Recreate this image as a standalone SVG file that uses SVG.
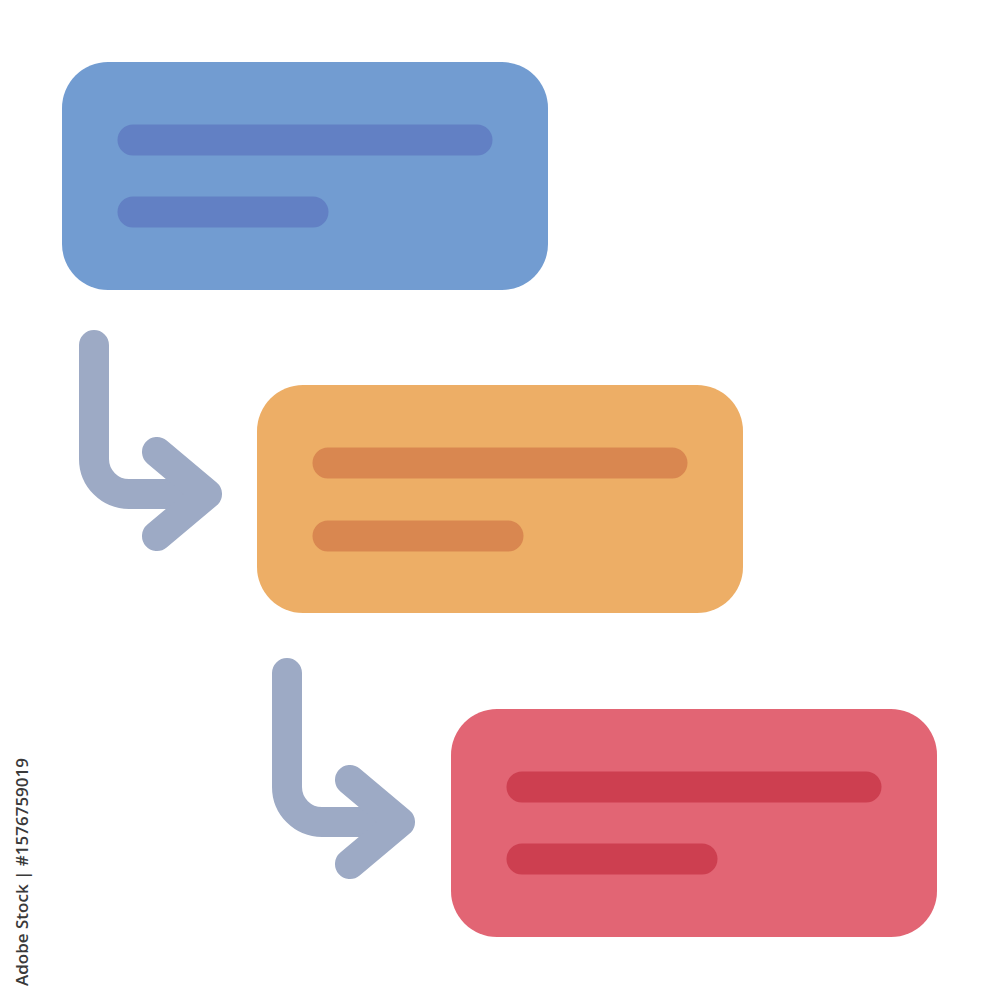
<svg xmlns="http://www.w3.org/2000/svg" width="1000" height="1000" viewBox="0 0 1000 1000">
  <style>
    .box { stroke: none; }
    .bar { stroke-width: 31; stroke-linecap: round; fill: none; }
    .conn { fill: none; stroke: #9DAAC5; stroke-width: 30; stroke-linecap: round; stroke-linejoin: round; }
    .credit { font-family: "Open Sans", "Liberation Sans", sans-serif; font-size: 17px; font-weight: 600; fill: #3a3a3a; }
  </style>
  <rect width="1000" height="1000" fill="#FFFFFF"/>
  <g id="node-blue">
    <rect class="box" x="62" y="62" width="486" height="228" rx="46" fill="#729CD1"/>
    <line class="bar" x1="133" y1="140" x2="477" y2="140" stroke="#6280C4"/>
    <line class="bar" x1="133" y1="212" x2="313" y2="212" stroke="#6280C4"/>
  </g>
  <g id="node-orange">
    <rect class="box" x="257" y="385" width="486" height="228" rx="46" fill="#EDAE66"/>
    <line class="bar" x1="328" y1="463" x2="672" y2="463" stroke="#D98750"/>
    <line class="bar" x1="328" y1="536" x2="508" y2="536" stroke="#D98750"/>
  </g>
  <g id="node-red">
    <rect class="box" x="451" y="709" width="486" height="228" rx="46" fill="#E26574"/>
    <line class="bar" x1="522" y1="787" x2="866" y2="787" stroke="#CD3F50"/>
    <line class="bar" x1="522" y1="859" x2="702" y2="859" stroke="#CD3F50"/>
  </g>
  <g id="connectors">
    <path class="conn" d="M94,345 V459 A35,35 0 0 0 129,494 H205"/>
    <path class="conn" d="M157,452 L207,494 L157,536"/>
    <path class="conn" d="M287,673 V787 A35,35 0 0 0 322,822 H398"/>
    <path class="conn" d="M350,780 L400,822 L350,864"/>
  </g>
  <text class="credit" transform="translate(28,758) rotate(-90)" text-anchor="end">Adobe Stock | #1576759019</text>
</svg>
